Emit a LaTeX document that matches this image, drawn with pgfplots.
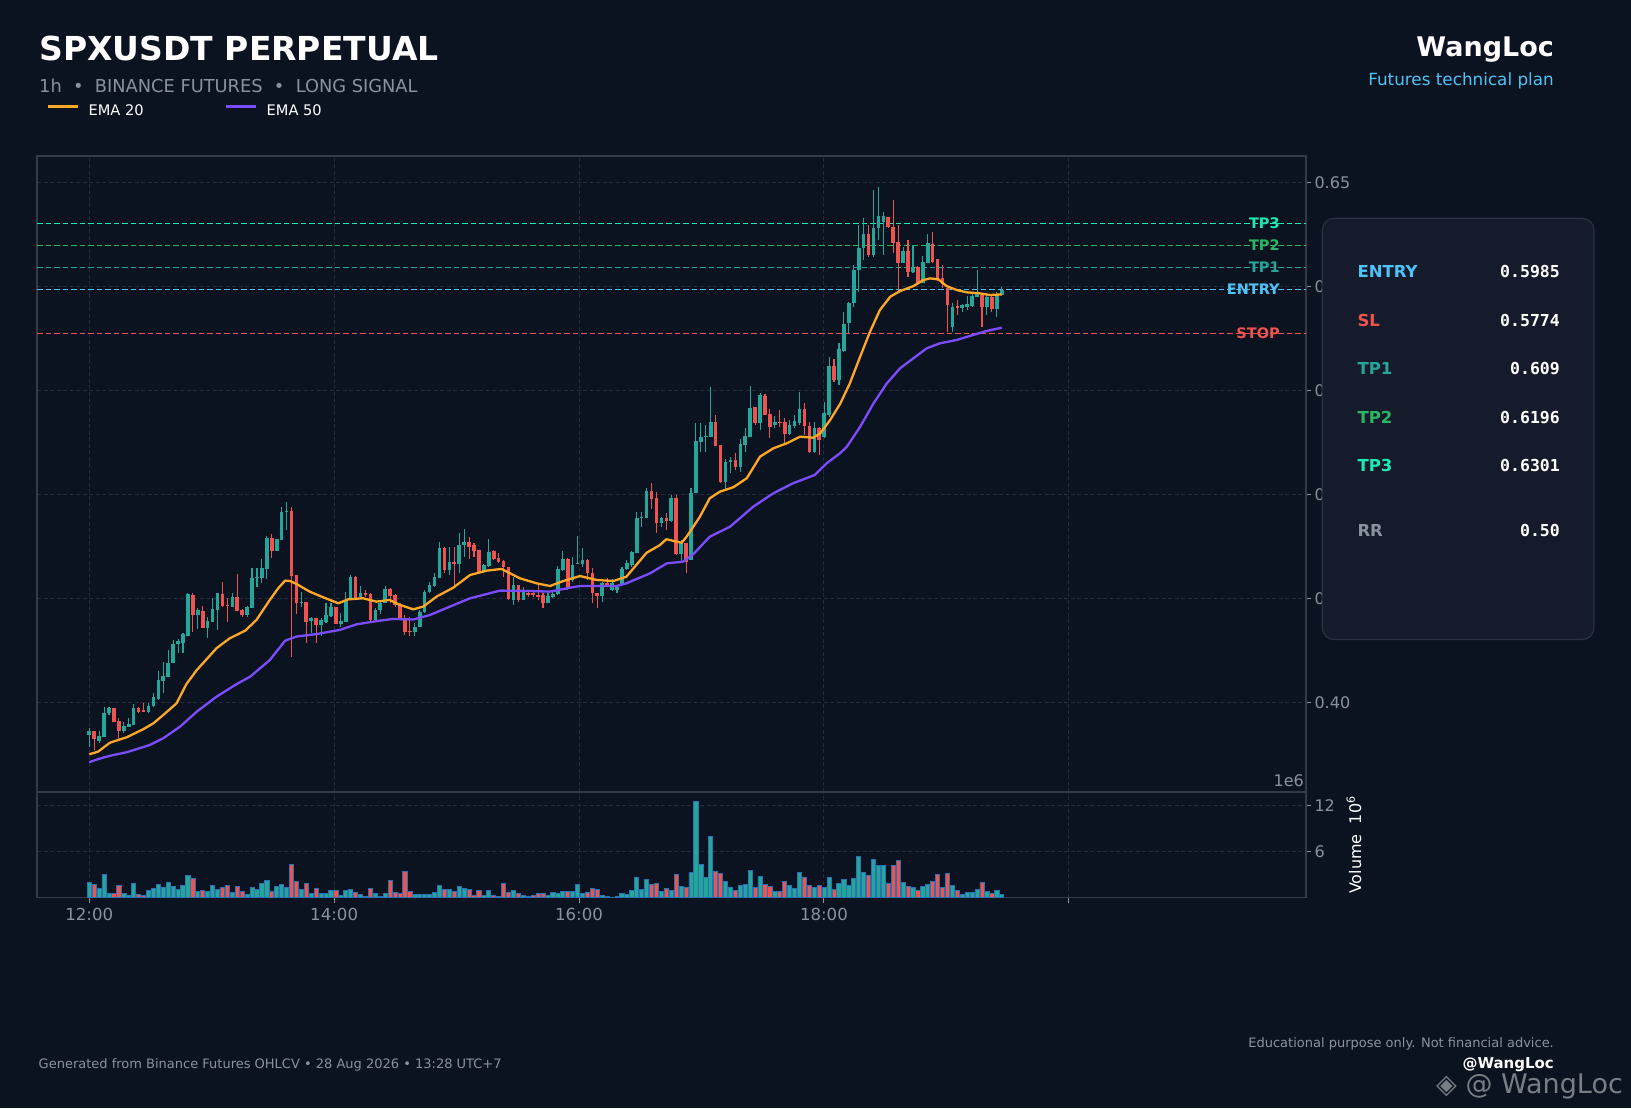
\documentclass[border=0pt]{standalone}
\usepackage{pgfplots}
\pgfplotsset{compat=1.18}
\usepackage{pgfplotstable}
\usepackage{fontspec}
\setmainfont{DejaVu Sans}
\newfontfamily\monofont{DejaVu Sans Mono}
\definecolor{bg}{HTML}{0C1320}
\definecolor{panelbg}{HTML}{151B2A}
\definecolor{panelbd}{HTML}{2A3142}
\definecolor{framec}{HTML}{343A46}
\definecolor{gridc}{HTML}{242B39}
\definecolor{tickc}{HTML}{8A929E}
\definecolor{upc}{HTML}{26A69A}
\definecolor{dnc}{HTML}{EF5350}
\definecolor{edgec}{HTML}{2B72B5}
\definecolor{emaA}{HTML}{FFA726}
\definecolor{emaB}{HTML}{7C4DFF}
\definecolor{entryc}{HTML}{4FC3F7}
\definecolor{tpA}{HTML}{26A69A}
\definecolor{tpB}{HTML}{29B765}
\definecolor{tpC}{HTML}{1DE9B6}
\definecolor{slc}{HTML}{EF5350}
\definecolor{rrc}{HTML}{8A929E}

\pgfplotstableread{
k o h l c v
0 0.3843 0.3875 0.3787 0.3864 2.07
1 0.3862 0.3862 0.3771 0.3822 1.81
2 0.3814 0.3864 0.3803 0.3838 1.29
3 0.3832 0.3976 0.3832 0.3947 3.10
4 0.3947 0.3979 0.3939 0.3971 0.60
5 0.3971 0.3971 0.3907 0.3907 0.60
6 0.3910 0.3923 0.3822 0.3864 1.68
7 0.3864 0.3907 0.3851 0.3888 0.60
8 0.3883 0.3923 0.3883 0.3894 0.38
9 0.3891 0.3992 0.3891 0.3971 1.94
10 0.3971 0.3979 0.3947 0.3955 0.47
11 0.3963 0.3995 0.3955 0.3955 0.34
12 0.3955 0.3995 0.3947 0.3984 1.03
13 0.3982 0.4043 0.3979 0.4024 1.29
14 0.4014 0.4152 0.4011 0.4107 1.81
15 0.4104 0.4195 0.4043 0.4126 1.46
16 0.4123 0.4252 0.4123 0.4191 2.07
17 0.4191 0.4300 0.4187 0.4280 1.55
18 0.4279 0.4304 0.4236 0.4295 1.16
19 0.4287 0.4332 0.4236 0.4327 1.68
20 0.4320 0.4524 0.4320 0.4521 2.98
21 0.4516 0.4524 0.4340 0.4420 2.59
22 0.4420 0.4452 0.4351 0.4444 0.90
23 0.4439 0.4465 0.4359 0.4359 1.03
24 0.4359 0.4412 0.4308 0.4389 0.90
25 0.4388 0.4500 0.4388 0.4449 1.68
26 0.4444 0.4527 0.4348 0.4527 1.16
27 0.4521 0.4580 0.4460 0.4463 1.42
28 0.4466 0.4500 0.4385 0.4463 1.68
29 0.4460 0.4527 0.4460 0.4508 0.77
30 0.4508 0.4615 0.4441 0.4441 1.55
31 0.4444 0.4449 0.4412 0.4420 0.90
32 0.4420 0.4463 0.4412 0.4460 0.51
33 0.4455 0.4644 0.4455 0.4599 1.42
34 0.4596 0.4644 0.4556 0.4604 1.20
35 0.4599 0.4687 0.4575 0.4647 1.94
36 0.4641 0.4800 0.4591 0.4792 2.33
37 0.4788 0.4809 0.4692 0.4727 0.90
38 0.4729 0.4785 0.4729 0.4785 1.55
39 0.4780 0.4937 0.4780 0.4917 1.81
40 0.4917 0.4961 0.4828 0.4920 1.42
41 0.4920 0.4941 0.4220 0.4607 4.40
42 0.4612 0.4612 0.4425 0.4476 2.20
43 0.4476 0.4529 0.4460 0.4484 1.16
44 0.4484 0.4484 0.4287 0.4388 1.94
45 0.4393 0.4412 0.4332 0.4404 0.64
46 0.4404 0.4404 0.4284 0.4372 1.29
47 0.4372 0.4404 0.4319 0.4396 0.64
48 0.4388 0.4476 0.4380 0.4420 0.64
49 0.4415 0.4479 0.4412 0.4460 1.03
50 0.4460 0.4460 0.4377 0.4377 1.03
51 0.4377 0.4428 0.4364 0.4389 0.38
52 0.4388 0.4532 0.4388 0.4492 1.03
53 0.4492 0.4612 0.4492 0.4604 1.16
54 0.4601 0.4607 0.4495 0.4495 0.77
55 0.4505 0.4559 0.4500 0.4524 0.51
56 0.4524 0.4540 0.4508 0.4516 0.25
57 0.4521 0.4527 0.4388 0.4396 1.29
58 0.4396 0.4452 0.4393 0.4444 0.64
59 0.4444 0.4492 0.4425 0.4479 0.25
60 0.4479 0.4559 0.4476 0.4543 0.64
61 0.4543 0.4548 0.4476 0.4511 2.33
62 0.4516 0.4521 0.4460 0.4468 0.77
63 0.4471 0.4476 0.4396 0.4404 0.64
64 0.4404 0.4420 0.4324 0.4340 3.49
65 0.4344 0.4412 0.4319 0.4340 0.86
66 0.4340 0.4380 0.4319 0.4364 0.51
67 0.4364 0.4444 0.4364 0.4436 0.51
68 0.4436 0.4540 0.4428 0.4532 0.51
69 0.4529 0.4580 0.4524 0.4564 0.51
70 0.4559 0.4620 0.4556 0.4604 0.77
71 0.4596 0.4772 0.4596 0.4740 1.68
72 0.4740 0.4745 0.4623 0.4636 1.16
73 0.4636 0.4745 0.4612 0.4673 1.16
74 0.4676 0.4745 0.4556 0.4665 0.86
75 0.4665 0.4812 0.4620 0.4756 1.55
76 0.4756 0.4832 0.4700 0.4772 1.29
77 0.4769 0.4793 0.4687 0.4748 1.16
78 0.4756 0.4764 0.4700 0.4729 0.38
79 0.4732 0.4732 0.4620 0.4628 1.03
80 0.4633 0.4665 0.4620 0.4660 0.38
81 0.4657 0.4784 0.4652 0.4724 1.03
82 0.4727 0.4732 0.4684 0.4687 0.38
83 0.4695 0.4716 0.4668 0.4676 0.25
84 0.4679 0.4684 0.4604 0.4652 1.94
85 0.4652 0.4652 0.4492 0.4495 0.77
86 0.4492 0.4604 0.4468 0.4564 1.03
87 0.4564 0.4564 0.4484 0.4492 0.64
88 0.4492 0.4556 0.4492 0.4529 0.38
89 0.4527 0.4540 0.4505 0.4514 0.25
90 0.4524 0.4540 0.4505 0.4516 0.38
91 0.4516 0.4569 0.4492 0.4505 0.64
92 0.4514 0.4524 0.4452 0.4476 0.64
93 0.4479 0.4524 0.4476 0.4511 0.38
94 0.4505 0.4532 0.4500 0.4521 0.77
95 0.4521 0.4655 0.4516 0.4641 0.64
96 0.4636 0.4729 0.4633 0.4689 0.90
97 0.4689 0.4692 0.4540 0.4556 0.90
98 0.4588 0.4700 0.4580 0.4660 0.90
99 0.4665 0.4799 0.4665 0.4671 1.81
100 0.4665 0.4740 0.4652 0.4684 0.64
101 0.4684 0.4687 0.4588 0.4620 0.77
102 0.4620 0.4644 0.4476 0.4524 1.29
103 0.4524 0.4527 0.4452 0.4511 1.16
104 0.4511 0.4580 0.4484 0.4575 0.38
105 0.4575 0.4596 0.4556 0.4564 0.25
106 0.4540 0.4591 0.4537 0.4575 0.13
107 0.4540 0.4564 0.4524 0.4556 0.25
108 0.4569 0.4652 0.4564 0.4641 0.64
109 0.4639 0.4684 0.4636 0.4668 0.51
110 0.4660 0.4727 0.4652 0.4721 1.03
111 0.4716 0.4917 0.4716 0.4884 2.72
112 0.4888 0.4917 0.4844 0.4892 1.16
113 0.4888 0.5029 0.4884 0.5016 2.46
114 0.5016 0.5053 0.4928 0.4976 1.81
115 0.4984 0.5013 0.4812 0.4860 1.94
116 0.4860 0.4892 0.4844 0.4888 0.90
117 0.4884 0.4908 0.4828 0.4872 1.29
118 0.4873 0.4997 0.4868 0.4984 1.03
119 0.4984 0.4997 0.4708 0.4711 3.11
120 0.4711 0.4780 0.4671 0.4767 1.55
121 0.4767 0.4767 0.4620 0.4676 1.42
122 0.4684 0.5029 0.4684 0.5005 3.36
123 0.5005 0.5341 0.5005 0.5256 12.60
124 0.5253 0.5341 0.5205 0.5274 4.44
125 0.5274 0.5333 0.5205 0.5280 2.76
126 0.5277 0.5514 0.5277 0.5349 8.07
127 0.5349 0.5381 0.5232 0.5232 3.49
128 0.5237 0.5237 0.5056 0.5061 3.23
129 0.5061 0.5168 0.5021 0.5157 2.20
130 0.5155 0.5181 0.5101 0.5165 1.42
131 0.5165 0.5197 0.5117 0.5133 1.03
132 0.5130 0.5266 0.5109 0.5242 1.68
133 0.5237 0.5317 0.5205 0.5280 1.81
134 0.5277 0.5521 0.5277 0.5413 3.62
135 0.5421 0.5421 0.5333 0.5344 1.42
136 0.5344 0.5485 0.5309 0.5477 2.85
137 0.5473 0.5481 0.5381 0.5381 1.81
138 0.5386 0.5409 0.5269 0.5325 1.55
139 0.5333 0.5377 0.5317 0.5349 0.90
140 0.5349 0.5405 0.5325 0.5341 0.90
141 0.5349 0.5365 0.5242 0.5290 2.20
142 0.5290 0.5357 0.5285 0.5333 1.68
143 0.5328 0.5381 0.5317 0.5354 1.29
144 0.5344 0.5493 0.5333 0.5409 3.36
145 0.5409 0.5437 0.5285 0.5330 2.71
146 0.5328 0.5349 0.5200 0.5205 1.68
147 0.5205 0.5349 0.5200 0.5317 1.42
148 0.5317 0.5325 0.5189 0.5261 1.68
149 0.5277 0.5445 0.5269 0.5393 1.42
150 0.5381 0.5660 0.5373 0.5617 2.71
151 0.5617 0.5650 0.5542 0.5550 1.12
152 0.5549 0.5726 0.5525 0.5697 1.94
153 0.5690 0.5878 0.5686 0.5819 2.46
154 0.5822 0.5926 0.5774 0.5921 1.68
155 0.5918 0.6102 0.5900 0.6078 2.59
156 0.6078 0.6295 0.5974 0.6182 5.44
157 0.6182 0.6327 0.6127 0.6251 3.36
158 0.6251 0.6295 0.6143 0.6150 2.97
159 0.6150 0.6463 0.6143 0.6279 5.05
160 0.6279 0.6479 0.6223 0.6338 4.27
161 0.6311 0.6359 0.6150 0.6338 4.27
162 0.6335 0.6335 0.6279 0.6287 1.94
163 0.6287 0.6415 0.6158 0.6210 4.27
164 0.6215 0.6295 0.5974 0.6114 4.92
165 0.6114 0.6187 0.6114 0.6171 2.07
166 0.6171 0.6223 0.6046 0.6070 1.55
167 0.6070 0.6198 0.6062 0.6094 1.42
168 0.6091 0.6097 0.6011 0.6014 1.03
169 0.6014 0.6146 0.6014 0.6118 1.55
170 0.6110 0.6251 0.6110 0.6207 1.81
171 0.6203 0.6263 0.6110 0.6118 2.20
172 0.6131 0.6131 0.6027 0.6033 3.10
173 0.6038 0.6102 0.5990 0.6011 1.42
174 0.5990 0.5990 0.5782 0.5910 3.23
175 0.5806 0.5918 0.5782 0.5902 1.68
176 0.5907 0.5934 0.5862 0.5894 1.03
177 0.5894 0.5915 0.5878 0.5910 0.51
178 0.5902 0.5953 0.5886 0.5915 0.77
179 0.5907 0.5966 0.5902 0.5953 0.77
180 0.5950 0.6078 0.5950 0.5966 1.16
181 0.5958 0.5966 0.5806 0.5902 2.07
182 0.5902 0.5966 0.5862 0.5950 0.90
183 0.5950 0.5953 0.5878 0.5891 0.64
184 0.5891 0.5974 0.5851 0.5958 1.03
185 0.5958 0.5995 0.5958 0.5982 0.51
}\candles

\begin{document}
\begin{tikzpicture}[x=1bp,y=1bp]
\fill[bg] (0,0) rectangle (1631,1108);
\path[use as bounding box] (0,0) rectangle (1631,1108);

% ---------- main price axis ----------
\begin{axis}[
  at={(37bp,315.7bp)}, anchor=south west, scale only axis,
  width=1269bp, height=636.3bp,
  xmin=-10.6, xmax=246.7, ymin=0.35673, ymax=0.66264,
  axis line style={draw=framec, line width=1.6bp},
  xtick={0,49.65,99.3,148.95,198.6}, xticklabels={},
  major x tick style={draw=none},
  ytick={0.40,0.45,0.50,0.55,0.60,0.65},
  yticklabels={0.40,0.45,0.50,0.55,0.60,0.65},
  scaled y ticks=false,
  ytick pos=right, yticklabel pos=right,
  tick align=outside, major tick length=5bp,
  major y tick style={draw=tickc, line width=1bp},
  yticklabel style={font=\fontsize{16bp}{19bp}\selectfont, text=tickc, anchor=west},
  grid=major,
  major grid style={draw=gridc, line width=1bp, dash pattern=on 4bp off 2.5bp},
  legend style={at={(axis description cs:0.0076,1.0704)}, anchor=west,
    draw=none, fill=none, text=white, inner sep=0pt, outer sep=0pt,
    font=\fontsize{14.6bp}{17bp}\selectfont, legend columns=2,
    nodes={inner sep=0pt},
    /tikz/every odd column/.append style={column sep=9bp},
    /tikz/every even column/.append style={column sep=81bp}},
  legend image code/.code={\draw[#1, line width=3bp] (0bp,4.3bp) -- (30bp,4.3bp);},
  candle/.style={forget plot, draw=none, mark=none,
    error bars/.cd, y dir=plus, y explicit, error mark=none},
]
% level lines
\addplot[forget plot, draw=tpC, line width=1.4bp, dash pattern=on 5.5bp off 3bp] coordinates {(-10.6,0.6301) (246.7,0.6301)};
\addplot[forget plot, draw=tpB, line width=1.4bp, dash pattern=on 5.5bp off 3bp] coordinates {(-10.6,0.6196) (246.7,0.6196)};
\addplot[forget plot, draw=tpA, line width=1.4bp, dash pattern=on 5.5bp off 3bp] coordinates {(-10.6,0.6090) (246.7,0.6090)};
\addplot[forget plot, draw=entryc, line width=1.4bp, dash pattern=on 5.5bp off 3bp] coordinates {(-10.6,0.5985) (246.7,0.5985)};
\addplot[forget plot, draw=slc, line width=1.4bp, dash pattern=on 5.5bp off 3bp] coordinates {(-10.6,0.5774) (246.7,0.5774)};

% up candles: wicks and bodies
\addplot[restrict expr to domain={\thisrow{c}-\thisrow{o}}{0:1}, candle,
  error bar style={draw=upc, line width=1.1bp, solid}]
  table[x=k, y=l, y error expr=\thisrow{h}-\thisrow{l}] {\candles};
\addplot[restrict expr to domain={\thisrow{c}-\thisrow{o}}{0:1}, candle,
  error bar style={draw=upc, line width=3.6bp, solid}]
  table[x=k, y=o, y error expr={max(\thisrow{c}-\thisrow{o},0.0005)}] {\candles};
% down candles
\addplot[restrict expr to domain={\thisrow{c}-\thisrow{o}}{-1:-0.00001}, candle,
  error bar style={draw=dnc, line width=1.1bp, solid}]
  table[x=k, y=l, y error expr=\thisrow{h}-\thisrow{l}] {\candles};
\addplot[restrict expr to domain={\thisrow{c}-\thisrow{o}}{-1:-0.00001}, candle,
  error bar style={draw=dnc, line width=3.6bp, solid}]
  table[x=k, y=c, y error expr={max(\thisrow{o}-\thisrow{c},0.0005)}] {\candles};

% EMA 20
\addplot[emaA, line width=2.3bp, line join=round, mark=none] coordinates {
(0,0.3750) (1.8,0.3763) (4.2,0.3806) (7.6,0.3832) (10.9,0.3870) (13,0.3899) (15,0.3939)
(17.7,0.3995) (19.7,0.4088) (21.8,0.4155) (25.8,0.4260) (28.5,0.4308) (31.6,0.4344)
(33.9,0.4396) (36.6,0.4492) (38.3,0.4548) (39.7,0.4585) (40.7,0.4583) (42,0.4569)
(44.7,0.4532) (47.4,0.4505) (50.5,0.4476) (52.5,0.4495) (55.5,0.4500) (58.2,0.4484)
(60.9,0.4492) (63,0.4468) (65.7,0.4447) (67.7,0.4460) (70.4,0.4508) (73.8,0.4551)
(77.2,0.4612) (80.6,0.4633) (83.6,0.4641) (87.3,0.4596) (90.7,0.4572) (93.4,0.4559)
(96.1,0.4583) (99.5,0.4607) (102.9,0.4588) (106.3,0.4583) (108.9,0.4604) (113,0.4719)
(115.7,0.4756) (117,0.4784) (120.1,0.4767) (121.1,0.4796) (123.8,0.4892) (125.8,0.4981)
(127.9,0.5013) (130.6,0.5034) (133.3,0.5077) (136,0.5181) (138.7,0.5221) (141.4,0.5245)
(144.1,0.5277) (146.8,0.5272) (148.2,0.5293) (150.2,0.5357) (152.2,0.5433) (154.2,0.5533)
(156.3,0.5662) (158.3,0.5782) (160.3,0.5886) (162.4,0.5950) (164.4,0.5977) (167.1,0.6001)
(169.1,0.6030) (170.5,0.6038) (172.2,0.6033) (173.8,0.6001) (175.9,0.5982) (177.9,0.5971)
(180.6,0.5966) (182.6,0.5958) (185,0.5961)};
\addlegendentry{EMA 20}
% EMA 50
\addplot[emaB, line width=2.3bp, line join=round, mark=none] coordinates {
(0,0.3712) (1.8,0.3727) (4.2,0.3743) (7.6,0.3760) (12.3,0.3795) (15,0.3827) (18.4,0.3883)
(21.8,0.3955) (25.8,0.4027) (29.9,0.4088) (32.6,0.4123) (36.6,0.4203) (39.7,0.4296)
(42,0.4316) (46.1,0.4328) (50.8,0.4348) (54.2,0.4375) (58.2,0.4390) (61.6,0.4401)
(65.7,0.4398) (69.1,0.4420) (71.8,0.4447) (77.2,0.4500) (83.3,0.4537) (89.4,0.4535)
(93.4,0.4532) (97.5,0.4551) (99.5,0.4559) (106.9,0.4559) (108.9,0.4572) (113.7,0.4620)
(117.1,0.4668) (120.4,0.4676) (122.5,0.4713) (125.8,0.4796) (129.9,0.4844) (134.6,0.4940)
(138.7,0.5005) (142.7,0.5053) (147.1,0.5093) (149.5,0.5149) (152.2,0.5197) (153.6,0.5229)
(156.3,0.5325) (159,0.5437) (161.7,0.5533) (164.4,0.5606) (167.1,0.5654) (169.8,0.5702)
(172.5,0.5726) (175.9,0.5742) (179.2,0.5766) (181.9,0.5785) (185,0.5801)};
\addlegendentry{EMA 50}

% level labels
\node[anchor=east, inner sep=0pt, text=tpC, font=\bfseries\fontsize{14.5bp}{16bp}\selectfont] at (axis cs:241.4,0.6301) {TP3};
\node[anchor=east, inner sep=0pt, text=tpB, font=\bfseries\fontsize{14.5bp}{16bp}\selectfont] at (axis cs:241.4,0.6196) {TP2};
\node[anchor=east, inner sep=0pt, text=tpA, font=\bfseries\fontsize{14.5bp}{16bp}\selectfont] at (axis cs:241.4,0.6090) {TP1};
\node[anchor=east, inner sep=0pt, text=entryc, font=\bfseries\fontsize{14.5bp}{16bp}\selectfont] at (axis cs:241.4,0.5985) {ENTRY};
\node[anchor=east, inner sep=0pt, text=slc, font=\bfseries\fontsize{14.5bp}{16bp}\selectfont] at (axis cs:241.4,0.5774) {STOP};
\end{axis}

% ---------- volume axis ----------
\begin{axis}[
  at={(37bp,210.3bp)}, anchor=south west, scale only axis,
  width=1269bp, height=105.4bp,
  xmin=-10.6, xmax=246.7, ymin=0.08, ymax=13.73,
  axis line style={draw=framec, line width=1.6bp},
  xtick={0,49.65,99.3,148.95,198.6}, xticklabels={12:00,14:00,16:00,18:00,{}},
  ytick={6,12}, yticklabels={6,12},
  ytick pos=right, yticklabel pos=right, xtick pos=left,
  tick align=outside, major tick length=5bp,
  major tick style={draw=tickc, line width=1bp},
  yticklabel style={font=\fontsize{16bp}{19bp}\selectfont, text=tickc, anchor=west},
  xticklabel style={font=\fontsize{16.6bp}{19bp}\selectfont, text=tickc, yshift=-2bp},
  grid=major,
  major grid style={draw=gridc, line width=1bp, dash pattern=on 4bp off 2.5bp},
]
\addplot[ybar, bar width=0.85, bar shift=0pt, fill=upc, draw=edgec, line width=0.8bp, forget plot,
  restrict expr to domain={\thisrow{c}-\thisrow{o}}{0:1}] table[x=k, y=v] {\candles};
\addplot[ybar, bar width=0.85, bar shift=0pt, fill=dnc, draw=edgec, line width=0.8bp, forget plot,
  restrict expr to domain={\thisrow{c}-\thisrow{o}}{-1:-0.00001}] table[x=k, y=v] {\candles};
\end{axis}

\node[anchor=east, inner sep=0pt, text=tickc, font=\fontsize{16bp}{19bp}\selectfont] at (1304,327) {1e6};
\node[rotate=90, inner sep=0pt, text=white, font=\fontsize{16bp}{19bp}\selectfont] at (1354,263) {Volume\ \ 10\textsuperscript{6}};

% ---------- header ----------
\node[anchor=base west, inner sep=0pt, text=white, font=\bfseries\fontsize{33bp}{38bp}\selectfont] at (39.3,1047.5) {SPXUSDT PERPETUAL};
\node[anchor=base west, inner sep=0pt, text=tickc, font=\fontsize{17.8bp}{21bp}\selectfont] at (39,1015.2) {1h\ \ •\ \ BINANCE FUTURES\ \ •\ \ LONG SIGNAL};
\node[anchor=base east, inner sep=0pt, text=white, font=\bfseries\fontsize{27bp}{32bp}\selectfont] at (1554,1051.8) {WangLoc};
\node[anchor=base east, inner sep=0pt, text=entryc, font=\fontsize{16.8bp}{20bp}\selectfont] at (1554,1022.7) {Futures technical plan};

% ---------- info panel ----------
\draw[panelbd, fill=panelbg, line width=1.2bp, rounded corners=12bp] (1322.3,468.4) rectangle (1594,889.7);
\foreach \lab/\val/\col/\yy in {ENTRY/0.5985/entryc/830.6, SL/0.5774/slc/781.6, TP1/0.609/tpA/733.3, TP2/0.6196/tpB/684.9, TP3/0.6301/tpC/636.3, RR/0.50/rrc/571.6}{
  \node[anchor=base west, inner sep=0pt, text=\col, font=\bfseries\fontsize{16.5bp}{20bp}\selectfont] at (1357.3,\yy) {\lab};
  \node[anchor=base east, inner sep=0pt, text=white, font=\monofont\bfseries\fontsize{16.5bp}{20bp}\selectfont] at (1560,\yy) {\val};
}

% ---------- footer ----------
\node[anchor=base west, inner sep=0pt, text=tickc, font=\fontsize{13bp}{16bp}\selectfont] at (38.5,40) {Generated from Binance Futures OHLCV • 28 Aug 2026 • 13:28 UTC+7};
\node[anchor=base east, inner sep=0pt, text=tickc, font=\fontsize{13bp}{16bp}\selectfont] at (1554,60.6) {Educational purpose only. Not financial advice.};
\node[anchor=base east, inner sep=0pt, text=white, font=\bfseries\fontsize{15bp}{18bp}\selectfont] at (1554,40) {@WangLoc};
\node[anchor=west, inner sep=0pt, text=white, opacity=0.45, font=\fontsize{27bp}{30bp}\selectfont] at (1436,22) {◈ @ WangLoc};
\end{tikzpicture}
\end{document}
